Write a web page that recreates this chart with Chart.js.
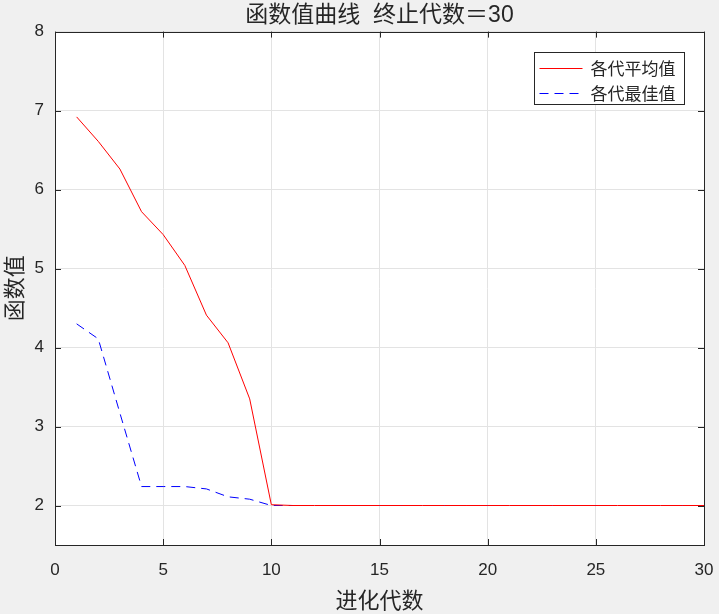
<!DOCTYPE html>
<html>
<head>
<meta charset="utf-8">
<script src="https://cdn.jsdelivr.net/npm/chart.js"></script>
<style>
  body { margin: 0; background: #f0f0f0; }
  canvas { display: block; }
</style>
</head>
<body>
<canvas id="chart" width="719" height="614"></canvas>
<script>
const generations = [1, 2, 3, 4, 5, 6, 7, 8, 9, 10, 11, 12, 13, 14, 15, 16, 17, 18, 19, 20, 21, 22, 23, 24, 25, 26, 27, 28, 29, 30];
const avgValues = [6.92, 6.61, 6.26, 5.72, 5.43, 5.04, 4.41, 4.06, 3.35, 2.01, 2, 2, 2, 2, 2, 2, 2, 2, 2, 2, 2, 2, 2, 2, 2, 2, 2, 2, 2, 2];
const bestValues = [4.30, 4.11, 3.17, 2.24, 2.24, 2.24, 2.21, 2.11, 2.08, 2.00, 2, 2, 2, 2, 2, 2, 2, 2, 2, 2, 2, 2, 2, 2, 2, 2, 2, 2, 2, 2];
const xTicks = [0, 5, 10, 15, 20, 25, 30];
const yTicks = [2, 3, 4, 5, 6, 7, 8];
const seriesNames = ["各代平均值", "各代最佳值"];

const axisColor = "#262626";
const latin = "'Liberation Sans', Arial, 'Noto Sans CJK SC', sans-serif";
const cjk = "'Noto Sans CJK SC', sans-serif";

const toPoints = (ys) => generations.map((g, i) => ({ x: g, y: ys[i] }));

// background, box, inward ticks and legend (matlab look)
const matlabAxes = {
  id: "matlabAxes",
  beforeDraw(chart) {
    const { ctx, chartArea: a } = chart;
    ctx.save();
    ctx.fillStyle = "#f0f0f0";
    ctx.fillRect(0, 0, chart.width, chart.height);
    ctx.fillStyle = "#ffffff";
    ctx.fillRect(a.left, a.top, a.right - a.left, a.bottom - a.top);
    ctx.restore();
  },
  afterDraw(chart) {
    const { ctx, chartArea: a, scales } = chart;
    const tick = 6;
    ctx.save();
    ctx.strokeStyle = axisColor;
    ctx.lineWidth = 1;
    ctx.beginPath();
    xTicks.forEach((v) => {
      const px = Math.round(scales.x.getPixelForValue(v)) + 0.5;
      ctx.moveTo(px, a.bottom); ctx.lineTo(px, a.bottom - tick);
      ctx.moveTo(px, a.top); ctx.lineTo(px, a.top + tick);
    });
    yTicks.forEach((v) => {
      const py = Math.round(scales.y.getPixelForValue(v)) + 0.5;
      ctx.moveTo(a.left, py); ctx.lineTo(a.left + tick, py);
      ctx.moveTo(a.right, py); ctx.lineTo(a.right - tick, py);
    });
    ctx.stroke();
    ctx.strokeRect(Math.round(a.left) + 0.5, Math.round(a.top) + 0.5,
      Math.round(a.right - a.left), Math.round(a.bottom - a.top));

    // legend
    const w = 150, h = 52;
    const lx = Math.round(a.right - 20 - w) + 0.5;
    const ly = Math.round(a.top + 20) + 0.5;
    ctx.fillStyle = "#ffffff";
    ctx.fillRect(lx, ly, w, h);
    ctx.strokeStyle = axisColor;
    ctx.strokeRect(lx, ly, w, h);
    chart.data.datasets.forEach((ds, i) => {
      const cy = Math.round(ly + 15 + i * 25) + 0.5;
      ctx.strokeStyle = ds.borderColor;
      ctx.setLineDash(ds.borderDash || []);
      ctx.beginPath();
      ctx.moveTo(lx + 5, cy);
      ctx.lineTo(lx + 48, cy);
      ctx.stroke();
      ctx.setLineDash([]);
      ctx.fillStyle = axisColor;
      ctx.font = "17px " + cjk;
      ctx.textBaseline = "middle";
      ctx.textAlign = "left";
      ctx.fillText(ds.label, lx + 56, cy);
    });
    ctx.restore();
  }
};

new Chart(document.getElementById("chart"), {
  type: "line",
  data: {
    datasets: [
      {
        label: seriesNames[0],
        data: toPoints(avgValues),
        borderColor: "#ff0000",
        borderWidth: 1,
        pointRadius: 0,
        tension: 0,
      },
      {
        label: seriesNames[1],
        data: toPoints(bestValues),
        borderColor: "#0000ff",
        borderWidth: 1,
        borderDash: [9, 6],
        pointRadius: 0,
        tension: 0,
      },
    ],
  },
  options: {
    responsive: false,
    animation: false,
    devicePixelRatio: 1,
    layout: { padding: { left: 0, top: 0, right: 15, bottom: 0 } },
    plugins: {
      legend: { display: false },
      tooltip: { enabled: false },
      title: {
        display: true,
        fullSize: false,
        text: "函数值曲线  终止代数＝30",
        color: axisColor,
        font: { family: latin, size: 23, weight: "normal" },
        padding: { top: 2, bottom: 2 },
      },
    },
    scales: {
      x: {
        type: "linear",
        min: 0,
        max: 30,
        afterBuildTicks: (s) => { s.ticks = xTicks.map((v) => ({ value: v })); },
        afterFit: (s) => { s.height = 69; s.paddingLeft = 0; s.paddingRight = 0; },
        grid: { color: "#e3e3e3", drawTicks: false },
        border: { display: false },
        ticks: { color: axisColor, padding: 15, maxRotation: 0, font: { family: latin, size: 17 } },
        title: {
          display: true,
          text: "进化代数",
          color: axisColor,
          font: { family: cjk, size: 22 },
          padding: { top: 0, bottom: 1 },
        },
      },
      y: {
        type: "linear",
        min: 1.5,
        max: 8,
        afterBuildTicks: (s) => { s.ticks = yTicks.map((v) => ({ value: v })); },
        afterFit: (s) => { s.width = 55; s.paddingTop = 0; s.paddingBottom = 0; },
        grid: { color: "#e3e3e3", drawTicks: false },
        border: { display: false },
        ticks: { color: axisColor, padding: 11, font: { family: latin, size: 17 } },
        title: {
          display: true,
          text: "函数值",
          color: axisColor,
          font: { family: cjk, size: 22 },
          padding: { top: 0, bottom: 0 },
        },
      },
    },
  },
  plugins: [matlabAxes],
});
</script>
</body>
</html>
